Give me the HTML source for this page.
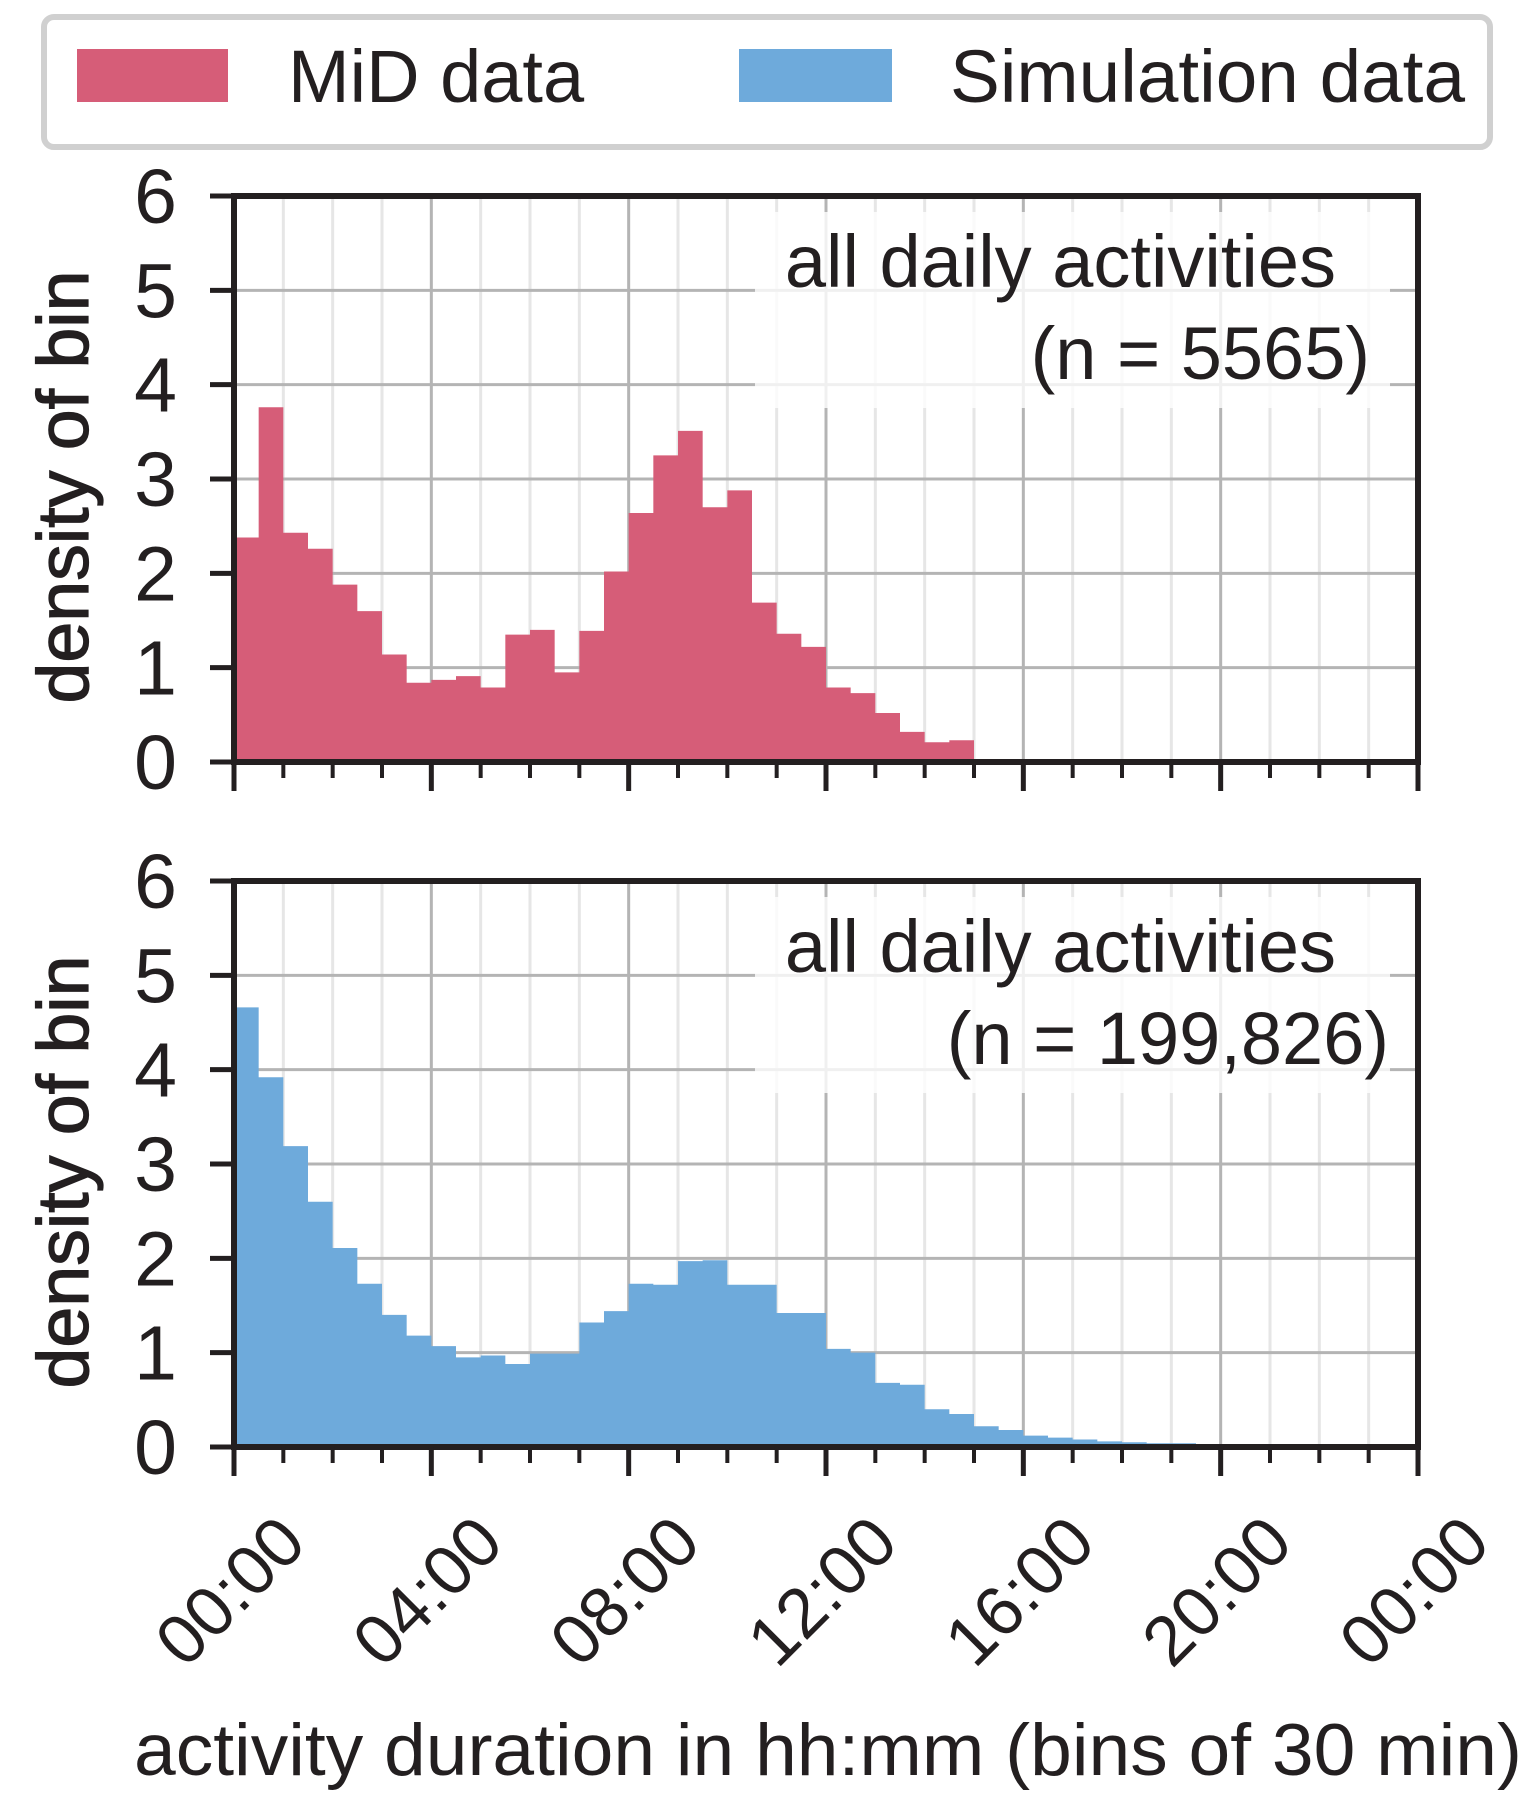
<!DOCTYPE html>
<html><head><meta charset="utf-8"><style>
html,body{margin:0;padding:0;background:#fff;}
svg{display:block;}
text{font-family:"Liberation Sans",sans-serif;fill:#231f20;}
</style></head><body>
<svg id="s" width="1532" height="1813" viewBox="0 0 1532 1813" xmlns="http://www.w3.org/2000/svg">
<rect width="1532" height="1813" fill="#fff"/>
<!-- legend -->
<rect x="44" y="17" width="1446" height="130" rx="10" fill="#fff" stroke="#d0d0d0" stroke-width="6"/>
<rect x="77" y="49" width="151" height="53" fill="#d65d78"/>
<text x="288" y="102" font-size="74">MiD data</text>
<rect x="739" y="49" width="153" height="53" fill="#6eaadb"/>
<text x="950" y="102" font-size="74" textLength="515" lengthAdjust="spacingAndGlyphs">Simulation data</text>
<g id="plots"></g>
<text x="134" y="1775" font-size="73" textLength="1388" lengthAdjust="spacingAndGlyphs">activity duration in hh:mm (bins of 30 min)</text>
</svg>
<script>
(function(){
var NS="http://www.w3.org/2000/svg";
var g=document.getElementById("plots");
function el(t,a,txt){var e=document.createElementNS(NS,t);for(var k in a)e.setAttribute(k,a[k]);if(txt!==undefined)e.textContent=txt;g.appendChild(e);return e;}
var L=234,R=1418,W=R-L,hw=W/24;
var top=[2.38,3.76,2.43,2.26,1.88,1.60,1.14,0.84,0.87,0.91,0.79,1.35,1.40,0.95,1.39,2.02,2.64,3.25,3.51,2.70,2.88,1.69,1.36,1.22,0.79,0.73,0.52,0.32,0.21,0.23,0.03,0.03,0.02,0.01,0.03,0.02,0.01,0.01,0.01,0.01,0.01,0.01,0.01,0.01,0.01,0.01,0.01,0.01];
var bot=[4.66,3.92,3.19,2.60,2.11,1.73,1.40,1.18,1.07,0.95,0.97,0.88,0.99,0.99,1.32,1.44,1.73,1.72,1.97,1.98,1.72,1.72,1.42,1.42,1.04,1.00,0.68,0.66,0.40,0.35,0.22,0.18,0.12,0.10,0.08,0.06,0.05,0.04,0.04,0.03,0.03,0.03,0.02,0.02,0.02,0.02,0.02,0.02];
function plot(T,B,data,col,l1,l2,ytxt){
 var s=(B-T)/6;
 for(var h=1;h<24;h++){if(h%4)el("line",{x1:L+h*hw,x2:L+h*hw,y1:T,y2:B,stroke:"#e6e6e6","stroke-width":3});}
 for(var h=4;h<24;h+=4){el("line",{x1:L+h*hw,x2:L+h*hw,y1:T,y2:B,stroke:"#b4b4b4","stroke-width":3});}
 for(var v=1;v<6;v++){el("line",{x1:L,x2:R,y1:B-v*s,y2:B-v*s,stroke:"#b4b4b4","stroke-width":3});}
 var d="M"+L+" "+B;
 for(var i=0;i<48;i++){var x0=L+i*hw/2,x1=x0+hw/2,y=B-data[i]*s;d+=" L"+x0+" "+y+" L"+x1+" "+y;}
 d+=" L"+R+" "+B+" Z";
 el("path",{d:d,fill:col});
 el("rect",{x:755,y:T+16,width:635,height:196,fill:"#fff","fill-opacity":0.8});
 el("text",{x:1336,y:T+91,"font-size":74,"text-anchor":"end"},l1);
 el("text",{x:ytxt,y:T+183,"font-size":74,"text-anchor":"end"},l2);
 el("rect",{x:L,y:T,width:W,height:B-T,fill:"none",stroke:"#231f20","stroke-width":6});
 for(var h=0;h<=24;h++){var maj=h%4==0;el("line",{x1:L+h*hw,x2:L+h*hw,y1:B,y2:B+(maj?29:16),stroke:"#231f20","stroke-width":maj?5:4});}
 for(var v=0;v<=6;v++){el("line",{x1:L-24,x2:L,y1:B-v*s,y2:B-v*s,stroke:"#231f20","stroke-width":5});
  el("text",{x:177,y:B-v*s+27,"font-size":77,"text-anchor":"end"},String(v));}
 var cy=(T+B)/2+8;
 el("text",{x:0,y:0,"font-size":72,"text-anchor":"middle",stroke:"#231f20","stroke-width":1.2,transform:"translate(88,"+cy+") rotate(-90)",textLength:433,lengthAdjust:"spacingAndGlyphs"},"density of bin");
}
plot(196,762,top,"#d65d78","all daily activities","(n = 5565)",1370);
plot(881,1447,bot,"#6eaadb","all daily activities","(n = 199,826)",1389);
var labs=["00:00","04:00","08:00","12:00","16:00","20:00","00:00"];
for(var i=0;i<7;i++){var x=L+i*4*hw-4;
 el("text",{x:0,y:0,"font-size":70,"text-anchor":"middle","dominant-baseline":"central",transform:"translate("+x+",1591) rotate(-45)"},labs[i]);}
})();
</script>
</body></html>
